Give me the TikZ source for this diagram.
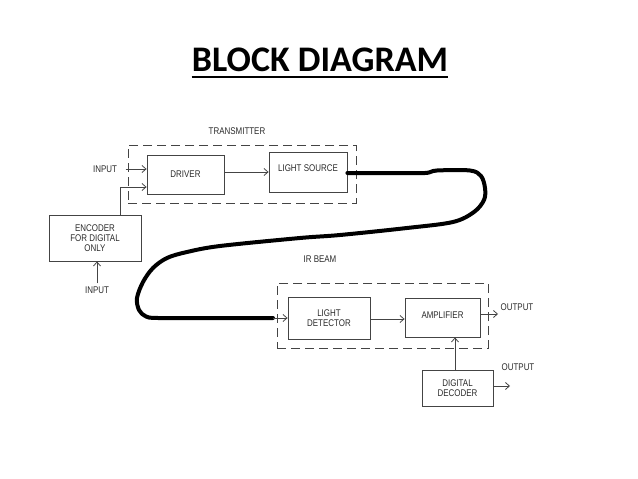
\documentclass[tikz,border=0pt]{standalone}
\usepackage{fontspec}
\setmainfont{Liberation Sans}
\newfontfamily\diagfont[FakeStretch=0.82]{Liberation Sans}
\newfontfamily\titlefont{Carlito}
\usetikzlibrary{arrows.meta}
\definecolor{linec}{HTML}{444444}
\definecolor{txtc}{HTML}{2A2A2A}
\tikzset{
  lbl/.style={inner sep=0pt, text=txtc, font=\diagfont\fontsize{9.7}{10}\selectfont, align=center},
  blk/.style={lbl, draw=linec, line width=0.8pt, rectangle},
  dashbox/.style={draw=linec, line width=0.9pt, dash pattern=on 9pt off 5pt, rectangle, inner sep=0pt},
  arr/.style={draw=linec, line width=0.8pt, -{Straight Barb[length=4pt,width=7pt]}},
  cable/.style={draw=black, line width=4pt, line cap=round, line join=round}
}
\begin{document}
\begin{tikzpicture}[x=1pt,y=-1pt]
\useasboundingbox (0,0) rectangle (638,479);
% title
\node[inner sep=0pt, anchor=base, font=\titlefont\bfseries\fontsize{36}{36}\selectfont] (title) at (320,71) {BLOCK DIAGRAM};
\draw[line width=2pt] ([yshift=-6pt]title.base west) -- ([yshift=-6pt]title.base east);

% transmitter
\node[lbl] (txlbl) at (237,131) {TRANSMITTER};
\node[dashbox, minimum width=228pt, minimum height=58pt] (txbox) at (242,174) {};
\node[blk, minimum width=77pt, minimum height=39pt] (driver) at (185.5,174.5) {DRIVER};
\node[blk, minimum width=78pt, minimum height=40pt, text depth=8pt] (ls) at (308,172) {LIGHT SOURCE};
\draw[arr] ([yshift=2.5pt]driver.east) -- ([yshift=2.5pt]driver.east -| ls.west);

\node[lbl] (in1) at (105,169) {INPUT};
\draw[arr] ([xshift=8.5pt]in1.east) -- (in1 -| driver.west);

\node[blk, minimum width=92pt, minimum height=46pt] (enc) at (95,238) {ENCODER\\FOR DIGITAL\\ONLY};
\draw[arr] ([xshift=25pt]enc.north) |- ([yshift=-12.5pt]driver.west);
\node[lbl] (in2) at (97,290) {INPUT};
\draw[arr] ([yshift=3pt]in2.north) -- (in2 |- enc.south);

% receiver
\node[lbl] (irlbl) at (320,259) {IR BEAM};
\node[dashbox, minimum width=211pt, minimum height=65pt] (rxbox) at (382.5,315.5) {};
\node[blk, minimum width=82pt, minimum height=42pt] (ld) at (329,318) {LIGHT\\DETECTOR};
\node[blk, minimum width=75pt, minimum height=39pt, text depth=5pt] (amp) at (442.5,317.5) {AMPLIFIER};
\draw[arr] ([yshift=-1pt]ld.east) -- ([yshift=-1pt]ld.east -| amp.west);

\node[lbl] (out1) at (517,307) {OUTPUT};
\coordinate (o1end) at (498,314);
\draw[arr] (amp.east |- o1end) -- (o1end);

\node[blk, minimum width=71pt, minimum height=36pt] (dec) at (457.5,388) {DIGITAL\\DECODER};
\draw[arr] ([xshift=-2.5pt]dec.north) -- ([xshift=-2.5pt]dec.north |- amp.south);
\node[lbl] (out2) at (518,367) {OUTPUT};
\coordinate (o2end) at (510,386);
\draw[arr] (dec.east |- o2end) -- (o2end);

% IR beam cable
\coordinate (cend) at (273,318);
\draw[cable] plot[smooth, tension=0.55] coordinates {
  ([yshift=-1pt]ls.east) (390,173) (425,173) (437,170.5) (470,170.5) (481,176) (485,188) (484,200) (474,212)
  (453,222) (407,228) (340,235) (300,238) (220,246) (187,252) (167,258)
  (153,268) (143,282) (137,298) (139,310) (146,316.5) (158,318) (210,318) (cend)};
\draw[arr] (cend) -- (cend -| ld.west);
\end{tikzpicture}
\end{document}
